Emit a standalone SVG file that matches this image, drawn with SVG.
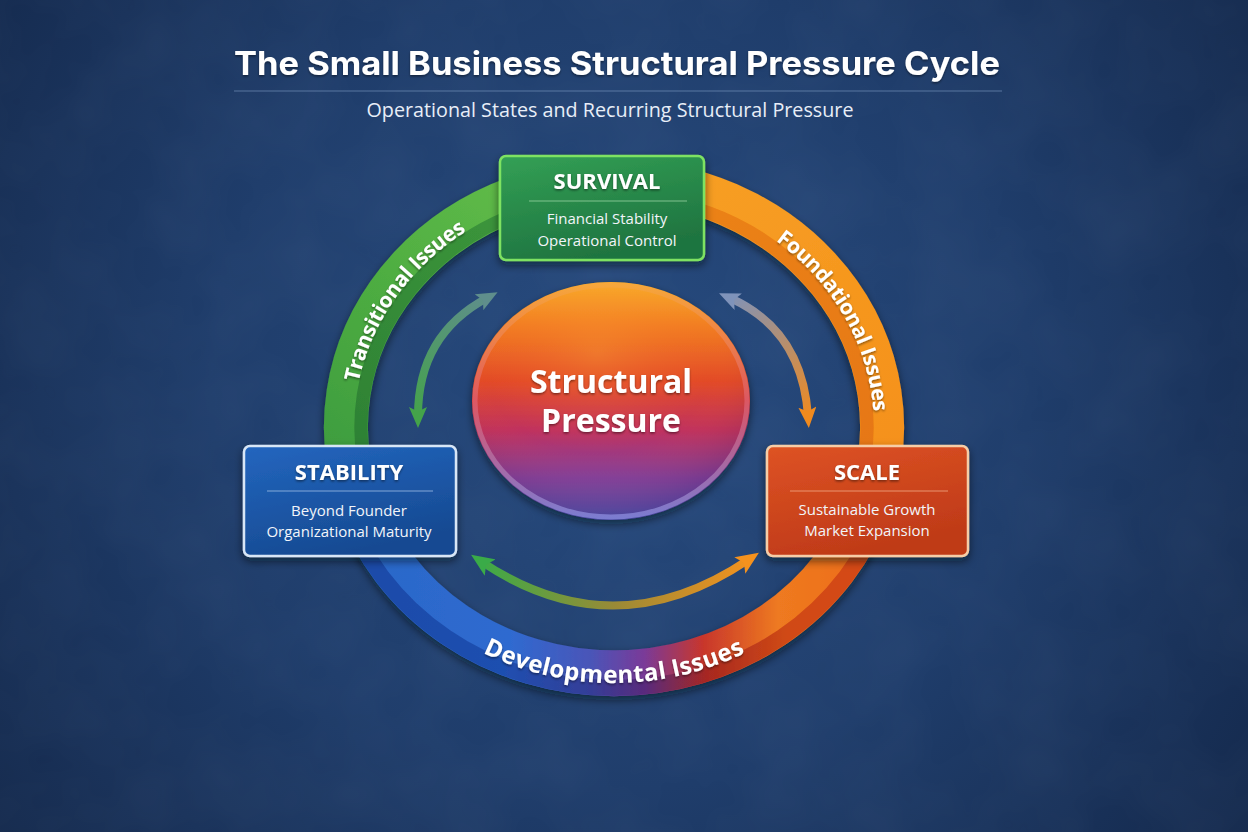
<svg xmlns="http://www.w3.org/2000/svg" width="1248" height="832" viewBox="0 0 1248 832">
  <defs>
    <style>
      .title{font-family:Inter,"Liberation Sans",Arial,sans-serif;font-weight:700;fill:#ffffff}
      .sub{font-family:"Open Sans","Liberation Sans",sans-serif;font-weight:400;fill:#e8eef8}
      .boxTitle{font-family:"Open Sans","Liberation Sans",sans-serif;font-weight:700;font-size:22px;fill:#ffffff;text-anchor:middle}
      .boxText{font-family:"Open Sans","Liberation Sans",sans-serif;font-weight:400;font-size:15px;fill:#f2f5fa;text-anchor:middle}
      .ringText{font-family:"Open Sans","Liberation Sans",sans-serif;font-weight:700;fill:#ffffff;dominant-baseline:central}
      .center{font-family:"Open Sans","Liberation Sans",sans-serif;font-weight:700;font-size:32px;fill:#ffffff;text-anchor:middle}
      .sep{stroke-width:1.2;opacity:0.75}
      .arrow{fill:none;stroke-width:8;stroke-linecap:butt}
    </style>
    <radialGradient id="bg" cx="620" cy="380" r="820" gradientUnits="userSpaceOnUse">
      <stop offset="0" stop-color="#274b7f"/>
      <stop offset="0.5" stop-color="#1f3d6b"/>
      <stop offset="1" stop-color="#132749"/>
    </radialGradient>
    <filter id="noise" x="0" y="0" width="100%" height="100%">
      <feTurbulence type="fractalNoise" baseFrequency="0.012" numOctaves="3" seed="4" result="t"/>
      <feColorMatrix in="t" type="matrix" values="0 0 0 0 0.6  0 0 0 0 0.7  0 0 0 0 0.9  0 0 0 0.35 -0.08"/>
    </filter>
    <filter id="shadow" x="-20%" y="-20%" width="140%" height="140%">
      <feDropShadow dx="0" dy="4" stdDeviation="4" flood-color="#000814" flood-opacity="0.55"/>
    </filter>
    <filter id="tshadow" x="-10%" y="-30%" width="120%" height="160%">
      <feDropShadow dx="0" dy="1.5" stdDeviation="1.2" flood-color="#000000" flood-opacity="0.45"/>
    </filter>
    <linearGradient id="gGreen" x1="350" y1="500" x2="600" y2="180" gradientUnits="userSpaceOnUse">
      <stop offset="0" stop-color="#3c9b3e"/>
      <stop offset="0.5" stop-color="#4fae42"/>
      <stop offset="1" stop-color="#66bf4a"/>
    </linearGradient>
    <linearGradient id="gGreenD" x1="350" y1="500" x2="600" y2="180" gradientUnits="userSpaceOnUse">
      <stop offset="0" stop-color="#2c7f34"/>
      <stop offset="1" stop-color="#3f9a3c"/>
    </linearGradient>
    <linearGradient id="gOrange" x1="620" y1="180" x2="880" y2="500" gradientUnits="userSpaceOnUse">
      <stop offset="0" stop-color="#f7a024"/>
      <stop offset="1" stop-color="#f5901a"/>
    </linearGradient>
    <linearGradient id="gOrangeD" x1="620" y1="180" x2="880" y2="500" gradientUnits="userSpaceOnUse">
      <stop offset="0" stop-color="#ec8418"/>
      <stop offset="1" stop-color="#e67612"/>
    </linearGradient>
    <linearGradient id="gBottom" x1="350" y1="0" x2="885" y2="0" gradientUnits="userSpaceOnUse">
      <stop offset="0" stop-color="#2a68c8"/>
      <stop offset="0.3" stop-color="#2f6ad0"/>
      <stop offset="0.45" stop-color="#4a55b8"/>
      <stop offset="0.55" stop-color="#7a3a98"/>
      <stop offset="0.66" stop-color="#c8362c"/>
      <stop offset="0.8" stop-color="#ee7a20"/>
      <stop offset="1" stop-color="#ee6a1a"/>
    </linearGradient>
    <linearGradient id="gBottomD" x1="350" y1="0" x2="885" y2="0" gradientUnits="userSpaceOnUse">
      <stop offset="0" stop-color="#1b4aa8"/>
      <stop offset="0.3" stop-color="#1f4fb0"/>
      <stop offset="0.45" stop-color="#343e98"/>
      <stop offset="0.55" stop-color="#5a2a7c"/>
      <stop offset="0.66" stop-color="#a82820"/>
      <stop offset="0.8" stop-color="#d04a16"/>
      <stop offset="1" stop-color="#d84a14"/>
    </linearGradient>
    <linearGradient id="gCircle" x1="0" y1="0" x2="0" y2="1">
      <stop offset="0" stop-color="#f8ae2a"/>
      <stop offset="0.18" stop-color="#f27f22"/>
      <stop offset="0.42" stop-color="#e24a28"/>
      <stop offset="0.62" stop-color="#c0325e"/>
      <stop offset="0.82" stop-color="#8040a0"/>
      <stop offset="1" stop-color="#5058b8"/>
    </linearGradient>
    <radialGradient id="gCircleHi" cx="0.45" cy="0.3" r="0.7">
      <stop offset="0" stop-color="#ffb040" stop-opacity="0.25"/>
      <stop offset="0.6" stop-color="#ff6030" stop-opacity="0"/>
      <stop offset="1" stop-color="#301050" stop-opacity="0.25"/>
    </radialGradient>
    <linearGradient id="gRim" x1="0" y1="0" x2="0" y2="1">
      <stop offset="0" stop-color="#f6a640"/>
      <stop offset="0.5" stop-color="#e06070"/>
      <stop offset="1" stop-color="#8c8ee0"/>
    </linearGradient>
    <linearGradient id="gSurv" x1="0" y1="0" x2="0.4" y2="1">
      <stop offset="0" stop-color="#33a055"/>
      <stop offset="1" stop-color="#1f7440"/>
    </linearGradient>
    <linearGradient id="gStab" x1="0" y1="0" x2="0.4" y2="1">
      <stop offset="0" stop-color="#2366bf"/>
      <stop offset="1" stop-color="#164a92"/>
    </linearGradient>
    <linearGradient id="gScale" x1="0" y1="0" x2="0.4" y2="1">
      <stop offset="0" stop-color="#de5324"/>
      <stop offset="1" stop-color="#bf3a18"/>
    </linearGradient>
    <linearGradient id="aLeft" x1="418" y1="420" x2="492" y2="296" gradientUnits="userSpaceOnUse">
      <stop offset="0" stop-color="#44a34a"/>
      <stop offset="1" stop-color="#5f8e8c"/>
    </linearGradient>
    <linearGradient id="aRight" x1="726" y1="296" x2="808" y2="420" gradientUnits="userSpaceOnUse">
      <stop offset="0" stop-color="#7f93ba"/>
      <stop offset="1" stop-color="#f08a1e"/>
    </linearGradient>
    <linearGradient id="aBottom" x1="478" y1="0" x2="752" y2="0" gradientUnits="userSpaceOnUse">
      <stop offset="0" stop-color="#3aab48"/>
      <stop offset="0.5" stop-color="#9a8a36"/>
      <stop offset="1" stop-color="#f5921e"/>
    </linearGradient>
    <marker id="mGreen" viewBox="0 0 14 12" refX="6" refY="6" markerWidth="21" markerHeight="18" markerUnits="userSpaceOnUse" orient="auto-start-reverse">
      <path d="M0,0 L14,6 L0,12 L3,6 z" fill="#44a34a"/>
    </marker>
    <marker id="mTeal" viewBox="0 0 14 12" refX="6" refY="6" markerWidth="21" markerHeight="18" markerUnits="userSpaceOnUse" orient="auto-start-reverse">
      <path d="M0,0 L14,6 L0,12 L3,6 z" fill="#5f8e8c"/>
    </marker>
    <marker id="mSlate" viewBox="0 0 14 12" refX="6" refY="6" markerWidth="21" markerHeight="18" markerUnits="userSpaceOnUse" orient="auto-start-reverse">
      <path d="M0,0 L14,6 L0,12 L3,6 z" fill="#7f93ba"/>
    </marker>
    <marker id="mOrange" viewBox="0 0 14 12" refX="6" refY="6" markerWidth="21" markerHeight="18" markerUnits="userSpaceOnUse" orient="auto-start-reverse">
      <path d="M0,0 L14,6 L0,12 L3,6 z" fill="#f08a1e"/>
    </marker>
    <marker id="mGreen2" viewBox="0 0 14 12" refX="6" refY="6" markerWidth="23" markerHeight="20" markerUnits="userSpaceOnUse" orient="auto-start-reverse">
      <path d="M0,0 L14,6 L0,12 L3,6 z" fill="#3aab48"/>
    </marker>
    <marker id="mOrange2" viewBox="0 0 14 12" refX="6" refY="6" markerWidth="23" markerHeight="20" markerUnits="userSpaceOnUse" orient="auto-start-reverse">
      <path d="M0,0 L14,6 L0,12 L3,6 z" fill="#f5921e"/>
    </marker>
    <path id="tpLeft" d="M 346 427 A 268 246 0 0 1 614 181"/>
    <path id="tpRight" d="M 614 181 A 268 246 0 0 1 882 427"/>
    <path id="tpBottom" d="M 346 427 A 268 246 0 0 0 882 427"/>
  </defs>

  <!-- background -->
  <rect x="0" y="0" width="1248" height="832" fill="url(#bg)"/>
  <rect x="0" y="0" width="1248" height="832" filter="url(#noise)" opacity="0.18"/>

  <!-- header -->
  <g id="header">
    <text class="title" x="617" y="75" font-size="33" text-anchor="middle" textLength="766" lengthAdjust="spacingAndGlyphs" filter="url(#tshadow)">The Small Business Structural Pressure Cycle</text>
    <line x1="234" y1="91" x2="1002" y2="91" stroke="#7f9cc4" stroke-width="1" opacity="0.6"/>
    <text class="sub" x="610" y="117" font-size="20" text-anchor="middle" textLength="487" lengthAdjust="spacingAndGlyphs">Operational States and Recurring Structural Pressure</text>
  </g>

  <!-- outer cycle ring -->
  <g id="ring" filter="url(#shadow)">
    <path d="M 358 500 A 268 246 0 0 0 870 500" fill="none" stroke="url(#gBottom)" stroke-width="46"/>
    <path d="M 358 500 A 268 246 0 0 0 870 500" fill="none" stroke="url(#gBottomD)" stroke-width="15" transform="translate(614 427) scale(1.056 1.06) translate(-614 -427)"/>
    <path d="M 358 500 A 268 246 0 0 1 614 181" fill="none" stroke="url(#gGreen)" stroke-width="44"/>
    <path d="M 358 500 A 268 246 0 0 1 614 181" fill="none" stroke="url(#gGreenD)" stroke-width="14" transform="translate(614 427) scale(0.944 0.939) translate(-614 -427)"/>
    <path d="M 614 181 A 268 246 0 0 1 870 500" fill="none" stroke="url(#gOrange)" stroke-width="44"/>
    <path d="M 614 181 A 268 246 0 0 1 870 500" fill="none" stroke="url(#gOrangeD)" stroke-width="14" transform="translate(614 427) scale(0.944 0.939) translate(-614 -427)"/>
  </g>

  <g id="ring-labels" filter="url(#tshadow)">
    <text class="ringText" font-size="21"><textPath href="#tpLeft" startOffset="36%" text-anchor="middle">Transitional Issues</textPath></text>
    <text class="ringText" font-size="21"><textPath href="#tpRight" startOffset="70%" text-anchor="middle">Foundational Issues</textPath></text>
    <text class="ringText" font-size="24"><textPath href="#tpBottom" startOffset="50%" text-anchor="middle">Developmental Issues</textPath></text>
  </g>

  <!-- inner connectors -->
  <g id="connectors">
    <path class="arrow" d="M 418 416 Q 418 335 487 298" stroke="url(#aLeft)" marker-start="url(#mGreen)" marker-end="url(#mTeal)"/>
    <path class="arrow" d="M 730 298 Q 802 330 808 416" stroke="url(#aRight)" marker-start="url(#mSlate)" marker-end="url(#mOrange)"/>
    <path class="arrow" d="M 482 562 Q 614 650 748 560" stroke="url(#aBottom)" stroke-width="10" marker-start="url(#mGreen2)" marker-end="url(#mOrange2)"/>
  </g>

  <!-- center -->
  <g id="structural-pressure">
    <ellipse cx="611" cy="401" rx="139" ry="119" fill="url(#gCircle)" filter="url(#shadow)"/>
    <ellipse cx="611" cy="401" rx="139" ry="119" fill="url(#gCircleHi)"/>
    <ellipse cx="611" cy="401" rx="136" ry="116" fill="none" stroke="url(#gRim)" stroke-width="5" opacity="0.75"/>
    <text class="center" x="611" y="393" filter="url(#tshadow)">Structural</text>
    <text class="center" x="611" y="432" filter="url(#tshadow)">Pressure</text>
  </g>

  <!-- SURVIVAL -->
  <g id="survival">
    <rect x="500" y="156" width="204" height="104" rx="6" fill="url(#gSurv)" stroke="#7ee262" stroke-width="2.5" filter="url(#shadow)"/>
    <text class="boxTitle" x="607" y="189" filter="url(#tshadow)">SURVIVAL</text>
    <line class="sep" x1="529" y1="201" x2="687" y2="201" stroke="#9ed8a8"/>
    <text class="boxText" x="607" y="224">Financial Stability</text>
    <text class="boxText" x="607" y="246">Operational Control</text>
  </g>

  <!-- STABILITY -->
  <g id="stability">
    <rect x="244" y="446" width="212" height="110" rx="6" fill="url(#gStab)" stroke="#d8e6f6" stroke-width="2.5" filter="url(#shadow)"/>
    <text class="boxTitle" x="349" y="480" filter="url(#tshadow)">STABILITY</text>
    <line class="sep" x1="267" y1="491" x2="433" y2="491" stroke="#a8c4ea"/>
    <text class="boxText" x="349" y="516">Beyond Founder</text>
    <text class="boxText" x="349" y="537">Organizational Maturity</text>
  </g>

  <!-- SCALE -->
  <g id="scale">
    <rect x="767" y="446" width="201" height="110" rx="6" fill="url(#gScale)" stroke="#f6cda6" stroke-width="2.5" filter="url(#shadow)"/>
    <text class="boxTitle" x="867" y="480" filter="url(#tshadow)">SCALE</text>
    <line class="sep" x1="790" y1="491" x2="948" y2="491" stroke="#f3b08c"/>
    <text class="boxText" x="867" y="515">Sustainable Growth</text>
    <text class="boxText" x="867" y="536">Market Expansion</text>
  </g>
</svg>
